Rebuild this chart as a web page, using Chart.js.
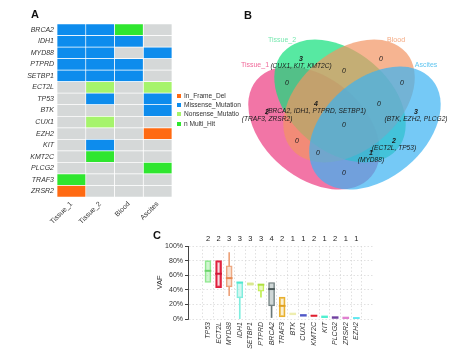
<!DOCTYPE html>
<html>
<head>
<meta charset="utf-8">
<script src="https://cdn.jsdelivr.net/npm/chart.js@4.4.1/dist/chart.umd.min.js"></script>
<style>
    html, body { margin: 0; padding: 0; background: #fff; }
    #wrap { position: relative; width: 474px; height: 351px; overflow: hidden; font-family: "Liberation Sans", Arial, sans-serif; }
    canvas { position: absolute; }
    .tag { position: absolute; font-weight: bold; font-size: 11px; color: #111; }
    .leg { position: absolute; left: 177px; font-size: 6.6px; color: #333; white-space: nowrap; line-height: 9px; }
    .leg i { display: inline-block; width: 4px; height: 4px; margin-right: 3px; vertical-align: 0; }
</style>
</head>
<body>
<div id="wrap">
    <canvas id="heat" width="250" height="235" style="left:0;top:0"></canvas>
    <canvas id="venn" width="244" height="230" style="left:230px;top:0"></canvas>
    <canvas id="vaf" width="235" height="126" style="left:155px;top:225px"></canvas>
    <div class="tag" style="left:31px;top:8px">A</div>
    <div class="tag" style="left:244px;top:9px">B</div>
    <div class="tag" style="left:153px;top:229px">C</div>
    <div id="legend"></div>
</div>
<script>
Chart.defaults.font.family = '"Liberation Sans", Arial, sans-serif';
Chart.defaults.color = '#333';

// ---- Panel A: mutation matrix
const genes = ['BRCA2', 'IDH1', 'MYD88', 'PTPRD', 'SETBP1', 'ECT2L', 'TP53', 'BTK', 'CUX1', 'EZH2', 'KIT', 'KMT2C', 'PLCG2', 'TRAF3', 'ZRSR2'];
const samples = ['Tissue_1', 'Tissue_2', 'Blood', 'Ascites'];
const tissue1 = ['Mis', 'Mis', 'Mis', 'Mis', 'Mis', '', '', '', '', '', '', '', '', 'Multi', 'Del'];
const tissue2 = ['Mis', 'Mis', 'Mis', 'Mis', 'Mis', 'Non', 'Mis', '', 'Non', '', 'Mis', 'Multi', '', '', ''];
const blood   = ['Multi', 'Mis', '', 'Mis', 'Mis', '', '', '', '', '', '', '', '', '', ''];
const ascites = ['', '', 'Mis', '', '', 'Non', 'Mis', 'Mis', '', 'Del', '', '', 'Multi', '', ''];
const legendKeys = ['Del', 'Mis', 'Non', 'Multi'];
const legendText = ['In_Frame_Del', 'Missense_Mutation', 'Nonsense_Mutatio', 'n Multi_Hit'];

// ---- Panel B: Venn regions
const vennSets = ['Tissue_1', 'Tissue_2', 'Blood', 'Ascites'];
const regionCounts = [3, 0, 0, 0, 0, 4, 0, 2, 3, 0, 0, 2, 0, 1, 0];
const regionGenes = ['CUX1, KIT, KMT2C', '', '', '', '', 'BRCA2, IDH1, PTPRD, SETBP1', '', 'TRAF3, ZRSR2',
    'BTK, EZH2, PLCG2', '', '', 'ECT2L, TP53', '', 'MYD88', ''];

// ---- Panel C: VAF per gene
const vafGenes = ['TP53', 'ECT2L', 'MYD88', 'IDH1', 'SETBP1', 'PTPRD', 'BRCA2', 'TRAF3', 'BTK', 'CUX1', 'KMT2C', 'KIT', 'PLCG2', 'ZRSR2', 'EZH2'];
const sampleCounts = [2, 2, 3, 3, 3, 3, 4, 2, 1, 1, 2, 1, 2, 1, 1];
const vafMin = [50, 43, 32, 0, 46, 30, 2, 3, 7, 5, 4, 3, 2, 1.5, 1];
const vafQ1  = [50, 43, 44, 29, 46, 38, 18, 3, 7, 5, 4, 3, 2, 1.5, 1];
const vafMed = [66, 62, 56, 50, 48, 47, 41, 18, 7, 5, 4.5, 3, 2, 1.5, 1];
const vafQ3  = [80, 80, 73, 50, 50, 48, 50, 30, 7, 5, 5, 3, 2, 1.5, 1];
const vafMax = [80, 80, 91, 50, 50, 48, 50, 30, 7, 5, 5, 3, 2, 1.5, 1];

// styles
const mutColor = { Del: '#ff6a12', Mis: '#0d8ced', Non: '#a6f46c', Multi: '#2fe62f', '': '#d5d8d8' };
const vennColors = ['#ec3a80', '#10e07a', '#f29462', '#3ab2f2'];
const vennLabelColors = ['#f06a9a', '#78e8b0', '#f5aa82', '#62c6f0'];
const boxLine = ['#8ee88e', '#e0203c', '#eda27a', '#7eeede', '#e4eea4', '#c0ee50', '#6a7878', '#e8b030',
    '#eeeeb0', '#5058c8', '#e02030', '#50f0d0', '#7040a0', '#e080d0', '#60e8f0'];
const boxFill = ['rgba(150,232,150,0.45)', 'rgba(240,175,190,0.45)', 'rgba(240,195,165,0.5)', 'rgba(165,240,228,0.5)',
    'rgba(240,248,200,0.7)', 'rgba(222,246,150,0.6)', 'rgba(175,188,188,0.6)', 'rgba(246,228,175,0.6)'];
const medColor = ['#6ad46a', '#d01838', '#e88850', '#50e8d0', '#d8e890', '#b0e040', '#4a5858', '#e0a020',
    '#eeeeb0', '#5058c8', '#e02030', '#50f0d0', '#7040a0', '#e080d0', '#60e8f0'];

// legend for panel A
document.getElementById('legend').innerHTML = legendKeys.map((k, i) =>
    `<div class="leg" style="top:${91 + i * 9.2}px"><i style="background:${mutColor[k]}"></i>${legendText[i]}</div>`).join('');

new Chart(document.getElementById('heat'), {
    type: 'bar',
    data: {
        labels: genes,
        datasets: [tissue1, tissue2, blood, ascites].map((col, i) => ({
            label: samples[i],
            data: genes.map(() => 1),
            backgroundColor: col.map(m => mutColor[m]),
            borderColor: 'rgba(255,255,255,0.8)',
            borderWidth: 0.7,
            borderSkipped: false,
            barPercentage: 1,
            categoryPercentage: 1
        }))
    },
    options: {
        indexAxis: 'y',
        responsive: false,
        animation: false,
        devicePixelRatio: 1,
        layout: { padding: { top: 24, right: 78, left: 0, bottom: 0 } },
        plugins: { legend: { display: false }, tooltip: { enabled: false } },
        scales: {
            x: {
                type: 'linear', stacked: true, min: 0, max: 4,
                grid: { display: false, drawTicks: false }, border: { display: false },
                afterBuildTicks: s => { s.ticks = samples.map((n, i) => ({ value: i + 0.5 })); },
                afterFit: s => { s.height = 38; },
                ticks: {
                    autoSkip: false, minRotation: 45, maxRotation: 45, padding: 3,
                    font: { size: 7 }, color: '#333', callback: (v, i) => samples[i]
                }
            },
            y: {
                stacked: true,
                grid: { display: false, drawTicks: false }, border: { display: false },
                afterFit: s => { s.width = 57; },
                ticks: { autoSkip: false, padding: 3, font: { size: 7, style: 'italic' }, color: '#333' }
            }
        }
    }
});

// ---- Venn: ellipse layout in unit space (y up)
const tilt = 40 * Math.PI / 180;
const ellipses = [
    { cx: 0.3385, cy: 0.458, a: 0.39, b: 0.26, rot: tilt },
    { cx: 0.474, cy: 0.599, a: 0.39, b: 0.26, rot: tilt },
    { cx: 0.521, cy: 0.599, a: 0.39, b: 0.26, rot: -tilt },
    { cx: 0.656, cy: 0.458, a: 0.39, b: 0.26, rot: -tilt }
];
const regionPos = [[0.271, 0.818], [0.6875, 0.818], [0.495, 0.755], [0.198, 0.693], [0.797, 0.693], [0.349, 0.583],
    [0.677, 0.583], [0.094, 0.542], [0.870, 0.542], [0.495, 0.474], [0.25, 0.391], [0.755, 0.391], [0.359, 0.328],
    [0.635, 0.328], [0.495, 0.224]];
const setLabelPos = [[0.031, 0.786], [0.172, 0.917], [0.766, 0.917], [0.922, 0.786]];

const vennPlugin = {
    id: 'venn',
    afterDraw(chart) {
        const { ctx, scales: { x, y } } = chart;
        const ux = x.getPixelForValue(1) - x.getPixelForValue(0);
        ctx.save();
        ctx.globalAlpha = 0.7;
        ellipses.forEach((e, i) => {
            ctx.beginPath();
            ctx.ellipse(x.getPixelForValue(e.cx), y.getPixelForValue(e.cy), e.a * ux, e.b * ux, e.rot, 0, Math.PI * 2);
            ctx.fillStyle = vennColors[i];
            ctx.fill();
        });
        ctx.globalAlpha = 1;
        ctx.textAlign = 'center';
        ctx.textBaseline = 'middle';
        vennSets.forEach((s, i) => {
            ctx.font = '7px "Liberation Sans", Arial, sans-serif';
            ctx.fillStyle = vennLabelColors[i];
            ctx.fillText(s, x.getPixelForValue(setLabelPos[i][0]), y.getPixelForValue(setLabelPos[i][1]));
        });
        ctx.fillStyle = '#1a1a1a';
        regionCounts.forEach((c, i) => {
            const px = x.getPixelForValue(regionPos[i][0]);
            const py = y.getPixelForValue(regionPos[i][1]);
            ctx.font = (c > 0 ? 'italic bold ' : 'italic ') + '7px "Liberation Sans", Arial, sans-serif';
            ctx.fillText(String(c), px, py);
            if (regionGenes[i]) {
                ctx.font = 'italic 6.6px "Liberation Sans", Arial, sans-serif';
                ctx.fillText('(' + regionGenes[i] + ')', px, py + 7);
            }
        });
        ctx.restore();
    }
};

new Chart(document.getElementById('venn'), {
    type: 'scatter',
    data: { datasets: [] },
    options: {
        responsive: false,
        animation: false,
        devicePixelRatio: 1,
        layout: { padding: { left: 19, right: 33, top: 24, bottom: 14 } },
        plugins: { legend: { display: false }, tooltip: { enabled: false } },
        scales: {
            x: { type: 'linear', min: 0, max: 1, display: false },
            y: { type: 'linear', min: 0, max: 1, display: false }
        }
    },
    plugins: [vennPlugin]
});

// ---- Panel C: box plots from floating bars
const xPos = vafGenes.map((g, i) => i + 1);
const isBox = vafGenes.map((g, i) => vafQ3[i] > vafQ1[i]);
const geneTicks = s => { s.ticks = xPos.map(v => ({ value: v })); };

new Chart(document.getElementById('vaf'), {
    type: 'bar',
    data: {
        datasets: [
            {
                label: 'median',
                data: xPos.map((x, i) => ({ x, y: isBox[i] ? [vafMed[i] - 0.9, vafMed[i] + 0.9] : [vafMed[i] - 1.2, vafMed[i] + 1.2] })),
                backgroundColor: medColor,
                barThickness: 6,
                grouped: false
            },
            {
                label: 'box',
                data: xPos.map((x, i) => ({ x, y: isBox[i] ? [vafQ1[i], vafQ3[i]] : null })),
                backgroundColor: boxFill,
                borderColor: boxLine,
                borderWidth: vafGenes.map(g => g === 'ECT2L' ? 1.8 : g === 'TRAF3' ? 1.5 : 1),
                borderSkipped: false,
                barThickness: 6,
                grouped: false
            },
            {
                label: 'upper',
                data: xPos.map((x, i) => ({ x, y: vafMax[i] > vafQ3[i] ? [vafQ3[i], vafMax[i]] : null })),
                backgroundColor: boxLine,
                barThickness: 1,
                grouped: false
            },
            {
                label: 'lower',
                data: xPos.map((x, i) => ({ x, y: vafQ1[i] > vafMin[i] ? [vafMin[i], vafQ1[i]] : null })),
                backgroundColor: boxLine,
                barThickness: 1,
                grouped: false
            }
        ]
    },
    options: {
        responsive: false,
        animation: false,
        devicePixelRatio: 1,
        layout: { padding: { left: 0, right: 16, top: 0, bottom: 0 } },
        plugins: { legend: { display: false }, tooltip: { enabled: false } },
        scales: {
            x: {
                type: 'linear', min: -0.3, max: 16.08,
                afterBuildTicks: geneTicks,
                afterFit: s => { s.height = 32; },
                grid: { color: '#d4d4d4', lineWidth: 0.7, drawTicks: false },
                border: { display: false, dash: [1.5, 2] },
                ticks: {
                    autoSkip: false, minRotation: 90, maxRotation: 90, padding: 3,
                    font: { size: 7, style: 'italic' }, color: '#333', callback: (v, i) => vafGenes[i]
                }
            },
            x2: {
                type: 'linear', position: 'top', min: -0.3, max: 16.08,
                afterBuildTicks: geneTicks,
                afterFit: s => { s.height = 21; },
                grid: { display: false, drawTicks: false },
                border: { display: false },
                ticks: { autoSkip: false, maxRotation: 0, padding: 3, font: { size: 7.5 }, color: '#222', callback: (v, i) => String(sampleCounts[i]) }
            },
            y: {
                min: 0, max: 100,
                afterFit: s => { s.width = 33; },
                grid: { color: '#d4d4d4', lineWidth: 0.7, tickLength: 3, tickColor: '#444', tickWidth: 1 },
                border: { display: true, color: '#444', width: 1, dash: [1.5, 2] },
                ticks: { stepSize: 20, padding: 2, font: { size: 7 }, color: '#333', callback: v => v + '%' },
                title: { display: true, text: 'VAF', font: { size: 7.5 }, color: '#333', padding: { top: 0, bottom: 0 } }
            }
        }
    }
});
</script>
</body>
</html>
